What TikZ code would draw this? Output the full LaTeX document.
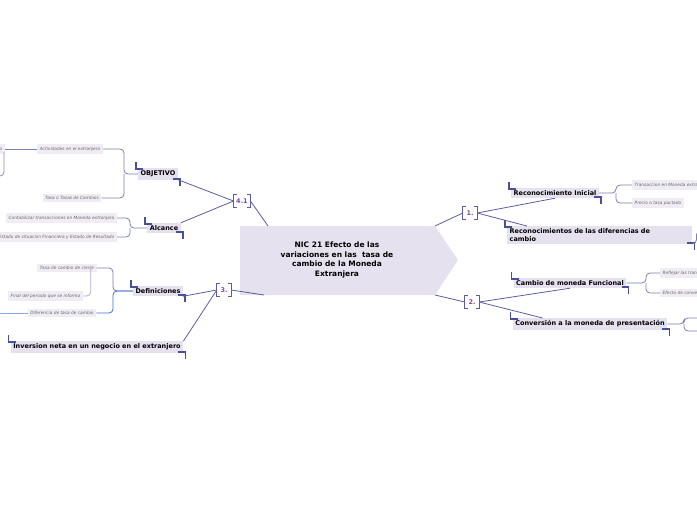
\documentclass[tikz,border=0pt]{standalone}
\usepackage{fontspec}
\setmainfont{DejaVu Sans}
\definecolor{boxf}{HTML}{E6E1EE}
\definecolor{subf}{HTML}{EFECF3}
\definecolor{lnc}{HTML}{5A5E9E}
\definecolor{crn}{HTML}{4A4F9A}
\definecolor{lab}{HTML}{8A4A9A}
\definecolor{blu}{HTML}{3A6FE0}
\begin{document}
\begin{tikzpicture}[x=1pt,y=-1pt,
  topic/.style={fill=boxf,font=\fontsize{6.5}{7.5}\selectfont\bfseries,inner sep=2.5pt,text=black,align=left},
  sub/.style={fill=subf,font=\fontsize{4.3}{5}\selectfont\itshape,text=black!60,inner sep=2.5pt},
  lab/.style={font=\fontsize{6.5}{7}\selectfont\bfseries,text=lab,inner sep=2.5pt,minimum width=14pt,minimum height=13pt},
  ln/.style={draw=lnc,line width=0.8pt},
  sl/.style={draw=lnc!80,line width=0.8pt,rounded corners=4pt},
  cr/.style={draw=crn,line width=1.6pt}]
\useasboundingbox (0,0) rectangle (697,520);
\clip (0,0) rectangle (697,520);
\newcommand\crn[1]{%
  \draw[cr] ([xshift=-2pt,yshift=6pt]#1.north west) -- ([xshift=-2pt,yshift=-1pt]#1.north west) -- ++(7pt,0);
  \draw[cr] ([xshift=2pt,yshift=-6pt]#1.south east) -- ([xshift=2pt,yshift=1pt]#1.south east) -- ++(-7pt,0);}
\newcommand\brk[1]{%
  \draw[lnc,line width=0.8pt] ([xshift=3pt]#1.north west) -- (#1.north west) -- (#1.south west) -- ++(3pt,0);
  \draw[lnc,line width=0.8pt] ([xshift=-3pt]#1.north east) -- (#1.north east) -- (#1.south east) -- ++(-3pt,0);}
% central
\fill[boxf] (240,226) -- (435,226) -- (458,260) -- (435,295) -- (240,295) -- cycle;
\coordinate (cA) at (268,226); \coordinate (cB) at (264,295);
\coordinate (cC) at (435,226); \coordinate (cD) at (435,295);
\node[font=\fontsize{7.5}{9.5}\selectfont\bfseries,align=center] (c) at (337,260) {NIC 21 Efecto de las\\variaciones en las\ \ tasa de\\cambio de la Moneda\\Extranjera};
% labels
\node[lab] (l41) at (242,201) {4.1};
\node[lab] (l3) at (224,290) {3.};
\node[lab] (l1) at (470,213) {1.};
\node[lab] (l2) at (472,302) {2.};
\foreach \n in {l41,l3,l1,l2} {\brk{\n}}
% topics
\node[topic] (obj) at (158,174) {OBJETIVO};
\node[topic] (alc) at (164,228) {Alcance};
\node[topic] (def) at (158,291) {Definiciones};
\node[topic] (inv) at (97,347) {Inversion neta en un negocio en el extranjero};
\node[topic] (ri) at (555,193) {Reconocimiento Inicial};
\node[topic,text width=180pt,anchor=west] (rd) at (507,235) {Reconocimientos de las diferencias de\\cambio};
\node[topic] (cm) at (570,283) {Cambio de moneda Funcional};
\node[topic] (cv) at (590,324) {Conversión a la moneda de presentación};
\foreach \n in {obj,alc,def,inv,ri,rd,cm,cv} {\crn{\n}}
% center links
\draw[ln] (cA) -- (l41.east);
\draw[ln] (cB) -- (l3.east);
\draw[ln] (cC) -- (l1.west);
\draw[ln] (cD) -- (l2.west);
\draw[ln] (l41.west) -- (obj.south east);
\draw[ln] (l41.west) -- (alc.north east);
\draw[ln] (l3.west) -- (def.south east);
\draw[ln] (l3.west) -- (inv.north east);
\draw[ln] (l1.east) -- (ri.south);
\draw[ln] (l1.east) -- ([xshift=20pt]rd.north west);
\draw[ln] (l2.east) -- (cm.south);
\draw[ln] (l2.east) -- ([xshift=30pt]cv.north west);
% subtopics
\node[sub] (act) at (70,149) {Actividades en el extranjero};
\node[sub] (tas) at (72,198) {Tasa o Tasas de Cambios};
\node[sub,anchor=east] (con) at (117,218) {Contabilizar transacciones en Moneda extranjera};
\node[sub,anchor=east] (sit) at (117,237) {Estado de situacion Financiera y Estado de Resultado};
\node[sub] (cie) at (67,268) {Tasa de cambio de cierre};
\node[sub,anchor=east] (fin) at (83,296) {Final del periodo que se informa};
\node[sub] (dif) at (62,313) {Diferencia de tasa de cambio};
\node[sub,anchor=east] (ext) at (5,149) {Negocio en el extranjero};
\node[sub,anchor=west] (tr) at (632,185) {Transaccion en Moneda extranjera};
\node[sub,anchor=west] (pr) at (632,203) {Precio o tasa pactado};
\node[sub,anchor=west] (rf) at (660,273) {Reflejar las transacciones};
\node[sub,anchor=west] (ef) at (660,293) {Efecto de conversion};
% bracket connectors
\coordinate (j1) at (124,174); \coordinate (j2) at (130,228); \coordinate (j3) at (113,291);
\coordinate (j4) at (616,193); \coordinate (j5) at (646,283);
\draw[sl] (obj.west) -- (j1) |- (act.east);
\draw[sl] (j1) |- (tas.east);
\draw[sl] (alc.west) -- (j2) |- (con.east);
\draw[sl] (j2) |- (sit.east);
\draw[sl] (def.west) -- (j3) |- (cie.east);
\draw[sl,draw=blu] (def.west) -- (j3) |- (dif.east);
\draw[sl,draw=lnc!50] ([xshift=-6pt]cie.east) |- (fin.east);
\draw[ln,draw=blu!60] (dif.west) -- (0,313);
\draw[sl] (ext.east) -- (act.west);
\draw[sl,draw=lnc!70] (4,152) -- (4,176) -- (0,176);
\draw[sl] (ri.east) -- (j4) |- (tr.west);
\draw[sl] (j4) |- (pr.west);
\draw[sl] (cm.east) -- (j5) |- (rf.west);
\draw[sl] (j5) |- (ef.west);
\coordinate (e1) at (697,231); \coordinate (e2) at (697,318); \coordinate (e3) at (697,331);
\draw[sl] (rd.south east) -- ++(4,0) |- (e1);
\draw[sl] (cv.east) -- (684,324) |- (e2);
\draw[sl] (684,324) |- (e3);
\end{tikzpicture}
\end{document}
